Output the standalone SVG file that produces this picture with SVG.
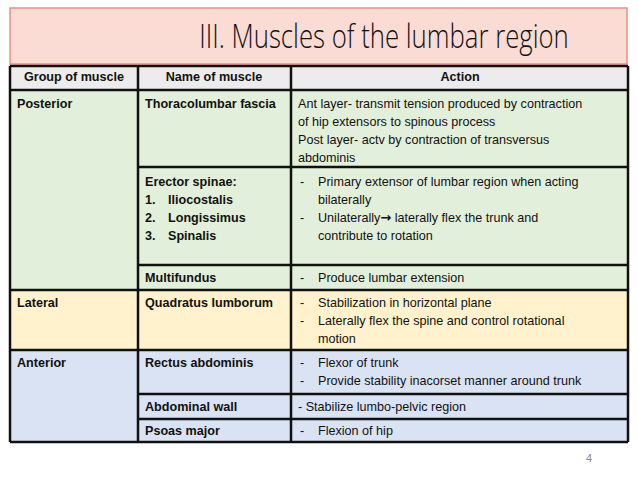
<svg xmlns="http://www.w3.org/2000/svg" width="638" height="478" viewBox="0 0 638 478">
<style>
text{font-family:"Liberation Sans",Arial,sans-serif;font-size:12.6px;fill:#111}
.b{font-weight:bold}
.h{font-weight:bold;text-anchor:middle}
.g{fill:#e2efda}.y{fill:#fff2cc}.u{fill:#dae3f3}
line{stroke:#111;stroke-width:2.5}
</style>
<rect width="638" height="478" fill="#fff"/>
<g id="title">
<rect x="10" y="8" width="617" height="56" fill="#fadcd4" stroke="#f28b82" stroke-width="1.5"/>
<text transform="translate(384,48) scale(0.78,1)" text-anchor="middle" style="font-family:'Open Sans',sans-serif;font-weight:300;font-size:33px">III. Muscles of the lumbar region</text>
</g>
<g id="table">
<rect x="10" y="66" width="618" height="24" fill="#ececec"/>
<rect x="10" y="90" width="618" height="200" class="g"/>
<rect x="10" y="290" width="618" height="60" class="y"/>
<rect x="10" y="350" width="618" height="92" class="u"/>
<g>
<line x1="10" y1="66" x2="628" y2="66"/><line x1="10" y1="90" x2="628" y2="90"/>
<line x1="138" y1="167" x2="628" y2="167"/><line x1="138" y1="265" x2="628" y2="265"/>
<line x1="10" y1="290" x2="628" y2="290"/><line x1="10" y1="350" x2="628" y2="350"/>
<line x1="138" y1="394" x2="628" y2="394"/><line x1="138" y1="419" x2="628" y2="419"/>
<line x1="10" y1="442" x2="628" y2="442"/>
<line x1="10" y1="66" x2="10" y2="442"/><line x1="138" y1="66" x2="138" y2="442"/>
<line x1="291" y1="66" x2="291" y2="442"/><line x1="628" y1="66" x2="628" y2="442"/>
</g>
</g>
<g id="header">
<text x="74" y="81" class="h">Group of muscle</text>
<text x="214" y="81" class="h">Name of muscle</text>
<text x="460" y="81" class="h">Action</text>
</g>
<g id="posterior">
<text x="17" y="108" class="b">Posterior</text>
<text x="145" y="108" class="b">Thoracolumbar fascia</text>
<text x="298" y="108">Ant layer- transmit tension produced by contraction</text>
<text x="298" y="126">of hip extensors to spinous process</text>
<text x="298" y="144">Post layer- actv by contraction of transversus</text>
<text x="298" y="162">abdominis</text>
<text x="145" y="186" class="b">Erector spinae:</text>
<text x="145" y="204" class="b">1.</text><text x="168" y="204" class="b">Iliocostalis</text>
<text x="145" y="222" class="b">2.</text><text x="168" y="222" class="b">Longissimus</text>
<text x="145" y="240" class="b">3.</text><text x="168" y="240" class="b">Spinalis</text>
<text x="300" y="186">-</text><text x="318" y="186">Primary extensor of lumbar region when acting</text>
<text x="318" y="204">bilaterally</text>
<text x="300" y="222">-</text><text x="318" y="222">Unilaterally<tspan style="font-family:'DejaVu Sans',sans-serif;font-size:13px;font-weight:bold">→</tspan> laterally flex the trunk and</text>
<text x="318" y="240">contribute to rotation</text>
<text x="145" y="282" class="b">Multifundus</text>
<text x="300" y="282">-</text><text x="318" y="282">Produce lumbar extension</text>
</g>
<g id="lateral">
<text x="17" y="307" class="b">Lateral</text>
<text x="145" y="307" class="b">Quadratus lumborum</text>
<text x="300" y="307">-</text><text x="318" y="307">Stabilization in horizontal plane</text>
<text x="300" y="325">-</text><text x="318" y="325">Laterally flex the spine and control rotational</text>
<text x="318" y="343">motion</text>
</g>
<g id="anterior">
<text x="17" y="367" class="b">Anterior</text>
<text x="145" y="367" class="b">Rectus abdominis</text>
<text x="300" y="367">-</text><text x="318" y="367">Flexor of trunk</text>
<text x="300" y="385">-</text><text x="318" y="385">Provide stability inacorset manner around trunk</text>
<text x="145" y="411" class="b">Abdominal wall</text>
<text x="298" y="411">- Stabilize lumbo-pelvic region</text>
<text x="145" y="435" class="b">Psoas major</text>
<text x="300" y="435">-</text><text x="318" y="435">Flexion of hip</text>
</g>
<text x="586" y="462" style="fill:#8a8a8a;font-size:11px">4</text>
</svg>
